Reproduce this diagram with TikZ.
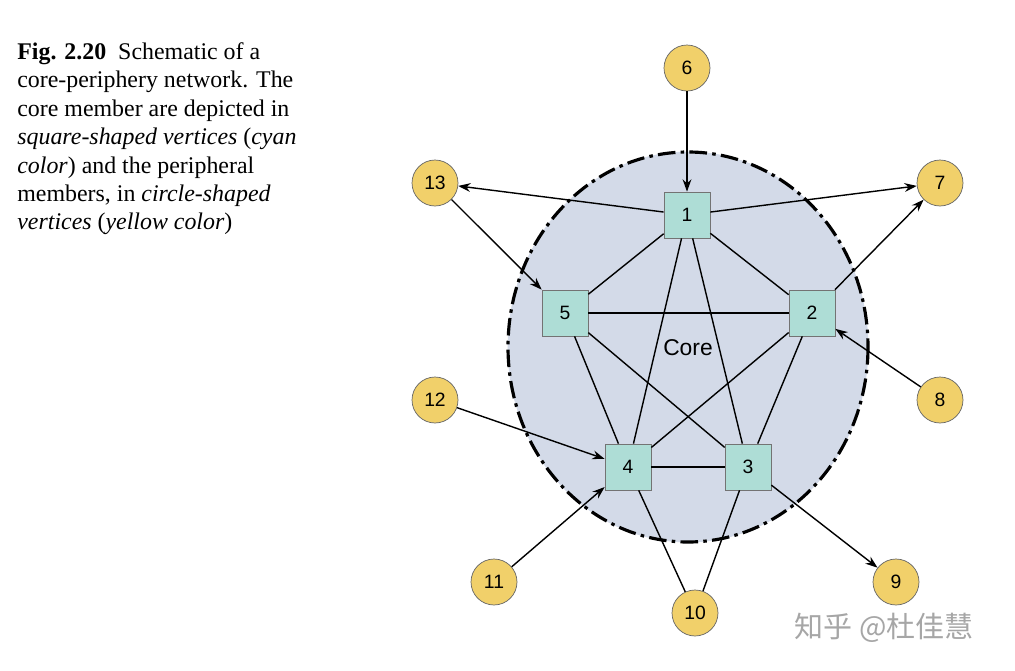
\documentclass[tikz,border=0pt]{standalone}
\usepackage{fontspec}
\setmainfont{Liberation Serif}
\newfontfamily\nodefont{Liberation Sans}
\newfontfamily\cjk{Noto Sans CJK SC}
\usetikzlibrary{arrows.meta}
\definecolor{corefill}{HTML}{D3DAE8}
\definecolor{sqfill}{HTML}{AEDDD6}
\definecolor{cifill}{HTML}{F1D06A}
\begin{document}
\begin{tikzpicture}[x=0.02cm,y=-0.02cm,
 sq/.style={draw=black!55,fill=sqfill,minimum size=0.92cm,inner sep=0pt,font=\nodefont\fontsize{11}{11}\selectfont},
 ci/.style={circle,draw=black!60,fill=cifill,minimum size=0.92cm,inner sep=0pt,font=\nodefont\fontsize{11}{11}\selectfont},
 arr/.style={-{Stealth[length=7pt,width=5pt]},thick},
 ln/.style={thick},
 tk/.style={line width=1.6pt}]
\useasboundingbox (0,0) rectangle (1015,670);
\fill[white] (0,0) rectangle (1015,670);
\draw[corefill,fill=corefill] (688,347) ellipse (180 and 195);
\draw[line width=1.8pt,dash pattern=on 10pt off 3pt on 2pt off 3pt] (688,347) ellipse (180 and 195);
\node[font=\nodefont\fontsize{13}{13}\selectfont] (core) at (688,348) {Core};
\node[sq] (n1) at (687,215) {1};
\node[sq] (n2) at (812,313) {2};
\node[sq] (n3) at (748,467) {3};
\node[sq] (n4) at (628,467) {4};
\node[sq] (n5) at (565,313) {5};
\node[ci] (n6) at (687,68) {6};
\node[ci] (n7) at (940,183) {7};
\node[ci] (n8) at (940,400) {8};
\node[ci] (n9) at (896,582) {9};
\node[ci] (n10) at (695,613) {10};
\node[ci] (n11) at (494,582) {11};
\node[ci] (n12) at (435,400) {12};
\node[ci] (n13) at (435,183) {13};
\draw[ln] (n1)--(n5); \draw[ln] (n1)--(n2); \draw[ln] (n1)--(n4); \draw[ln] (n1)--(n3);
\draw[tk] (n5)--(n2); \draw[ln] (n5)--(n4); \draw[ln] (n5)--(n3);
\draw[ln] (n2)--(n4); \draw[ln] (n2)--(n3); \draw[tk] (n4)--(n3);
\draw[ln] (n10)--(n4); \draw[ln] (n10)--(n3);
\draw[arr] (n6)--(n1); \draw[arr] (n1)--(n13); \draw[arr] (n1)--(n7);
\draw[arr] (n13)--(n5); \draw[arr] (n2)--(n7); \draw[arr] (n8)--(n2);
\draw[arr] (n12)--(n4); \draw[arr] (n11)--(n4); \draw[arr] (n3)--(n9);
\node[anchor=north west,align=left,inner sep=0pt,font=\fontsize{13.6}{16.2}\selectfont] (cap) at (17,42)
 {\textbf{Fig. 2.20}\enspace Schematic of a\\core-periphery network. The\\core member are depicted in\\\textit{square-shaped vertices} (\textit{cyan}\\\textit{color}) and the peripheral\\members, in \textit{circle-shaped}\\\textit{vertices} (\textit{yellow color})};
\node[text=black!35,font=\cjk\fontsize{16.5}{16.5}\selectfont] (wm) at (884,628) {知乎 @杜佳慧};
\end{tikzpicture}
\end{document}
